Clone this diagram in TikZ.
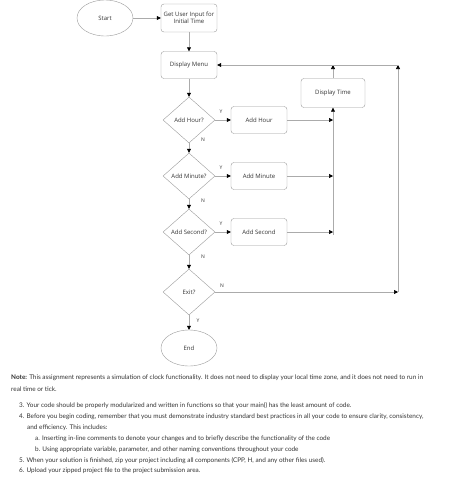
\documentclass[tikz,border=0pt]{standalone}
\usepackage{fontspec}
\setmainfont{Lato}
\newfontfamily\chartfont{Open Sans}
\usetikzlibrary{shapes.geometric,arrows.meta}
\definecolor{boxgray}{HTML}{9A9A9A}
\definecolor{linegray}{HTML}{ABABAB}
\definecolor{inkgray}{HTML}{333333}
\begin{document}
\begin{tikzpicture}[x=1pt, y=-1pt,
    every node/.style={font=\chartfont\fontsize{6}{7}\selectfont, text=inkgray},
    terminal/.style={ellipse, draw=boxgray, minimum width=56pt, minimum height=36pt, inner sep=0pt},
    process/.style={rectangle, rounded corners=3pt, draw=boxgray, minimum width=56pt, minimum height=27pt, inner sep=1pt, align=center},
    decision/.style={diamond, draw=boxgray, minimum width=52pt, minimum height=46pt, inner sep=0.5pt},
    flow/.style={draw=linegray, line width=0.7pt, -{Triangle[length=4pt, width=4pt, color=black]}},
    plain/.style={draw=linegray, line width=0.7pt},
    yn/.style={font=\chartfont\fontsize{5}{6}\selectfont, inner sep=0pt},
    notetext/.style={font=\fontsize{6.4}{7.5}\selectfont, anchor=west, inner sep=0pt}]
    \useasboundingbox (0, 0) rectangle (474, 477);

    % flowchart
    \node (start) at (105, 18) [terminal] {Start};
    \node (input) at (189, 18) [process, minimum height=28pt] {Get User Input for\\Initial Time};
    \node (menu) at (189, 65) [process] {Display Menu};
    \node (dtime) at (333, 93) [process, minimum width=64pt, minimum height=29pt] {Display Time};

    \node (hourq) at (189, 120) [decision] {Add Hour?};
    \node (minq) at (189, 176) [decision] {Add Minute?};
    \node (secq) at (189, 232) [decision] {Add Second?};
    \node (exitq) at (189, 292) [decision] {Exit?};
    \node (stop) at (189, 348) [terminal] {End};

    \node (hour) at (259, 120) [process] {Add Hour};
    \node (minute) at (259, 176) [process] {Add Minute};
    \node (second) at (259, 232) [process] {Add Second};

    \coordinate (j1) at (333, 120);
    \coordinate (j2) at (333, 176);
    \coordinate (j3) at (333, 232);
    \coordinate (jb) at (333, 235);
    \coordinate (jt) at (333, 65);
    \coordinate (r1) at (398, 292);
    \coordinate (r2) at (398, 65);

    \draw[flow] (start) -- (input);
    \draw[flow] (input) -- (menu);
    \draw[flow] (menu) -- (hourq);
    \draw[flow] (hourq) -- (minq);
    \draw[flow] (minq) -- (secq);
    \draw[flow] (secq) -- (exitq);
    \draw[flow] (exitq) -- (stop);

    \draw[flow] (hourq) -- (hour);
    \draw[flow] (minq) -- (minute);
    \draw[flow] (secq) -- (second);
    \draw[flow] (hour) -- (j1);
    \draw[flow] (minute) -- (j2);
    \draw[flow] (second) -- (j3);
    \draw[flow] (jb) -- (dtime);
    \draw[flow] (dtime) -- (jt);
    \draw[plain] (jt) -- (r2);

    \draw[flow] (exitq) -- (r1);
    \draw[flow] (r1) -- (r2);
    \draw[flow] (r2) -- (menu);

    \node (y1) at (221, 112) [yn] {Y};
    \node (y2) at (221, 168) [yn] {Y};
    \node (y3) at (221, 224) [yn] {Y};
    \node (n1) at (203, 140) [yn] {N};
    \node (n2) at (203, 201) [yn] {N};
    \node (n3) at (203, 257) [yn] {N};
    \node (n4) at (222, 286) [yn] {N};
    \node (y4) at (198, 321) [yn] {Y};

    % note below the chart
    \node (note1) at (11, 378) [notetext] {\textbf{Note:} This assignment represents a simulation of clock functionality. It does not need to display your local time zone, and it does not need to run in};
    \node (note2) at (11, 389) [notetext] {real time or tick.};
    \node (item3) at (19, 406) [notetext] {3. Your code should be properly modularized and written in functions so that your main() has the least amount of code.};
    \node (item4) at (19, 417) [notetext] {4. Before you begin coding, remember that you must demonstrate industry standard best practices in all your code to ensure clarity, consistency,};
    \node (item4b) at (27, 428) [notetext] {and efficiency. This includes:};
    \node (itema) at (35, 439) [notetext] {a. Inserting in-line comments to denote your changes and to briefly describe the functionality of the code};
    \node (itemb) at (35, 450) [notetext] {b. Using appropriate variable, parameter, and other naming conventions throughout your code};
    \node (item5) at (19, 461) [notetext] {5. When your solution is finished, zip your project including all components (CPP, H, and any other files used).};
    \node (item6) at (19, 471) [notetext] {6. Upload your zipped project file to the project submission area.};
\end{tikzpicture}
\end{document}
